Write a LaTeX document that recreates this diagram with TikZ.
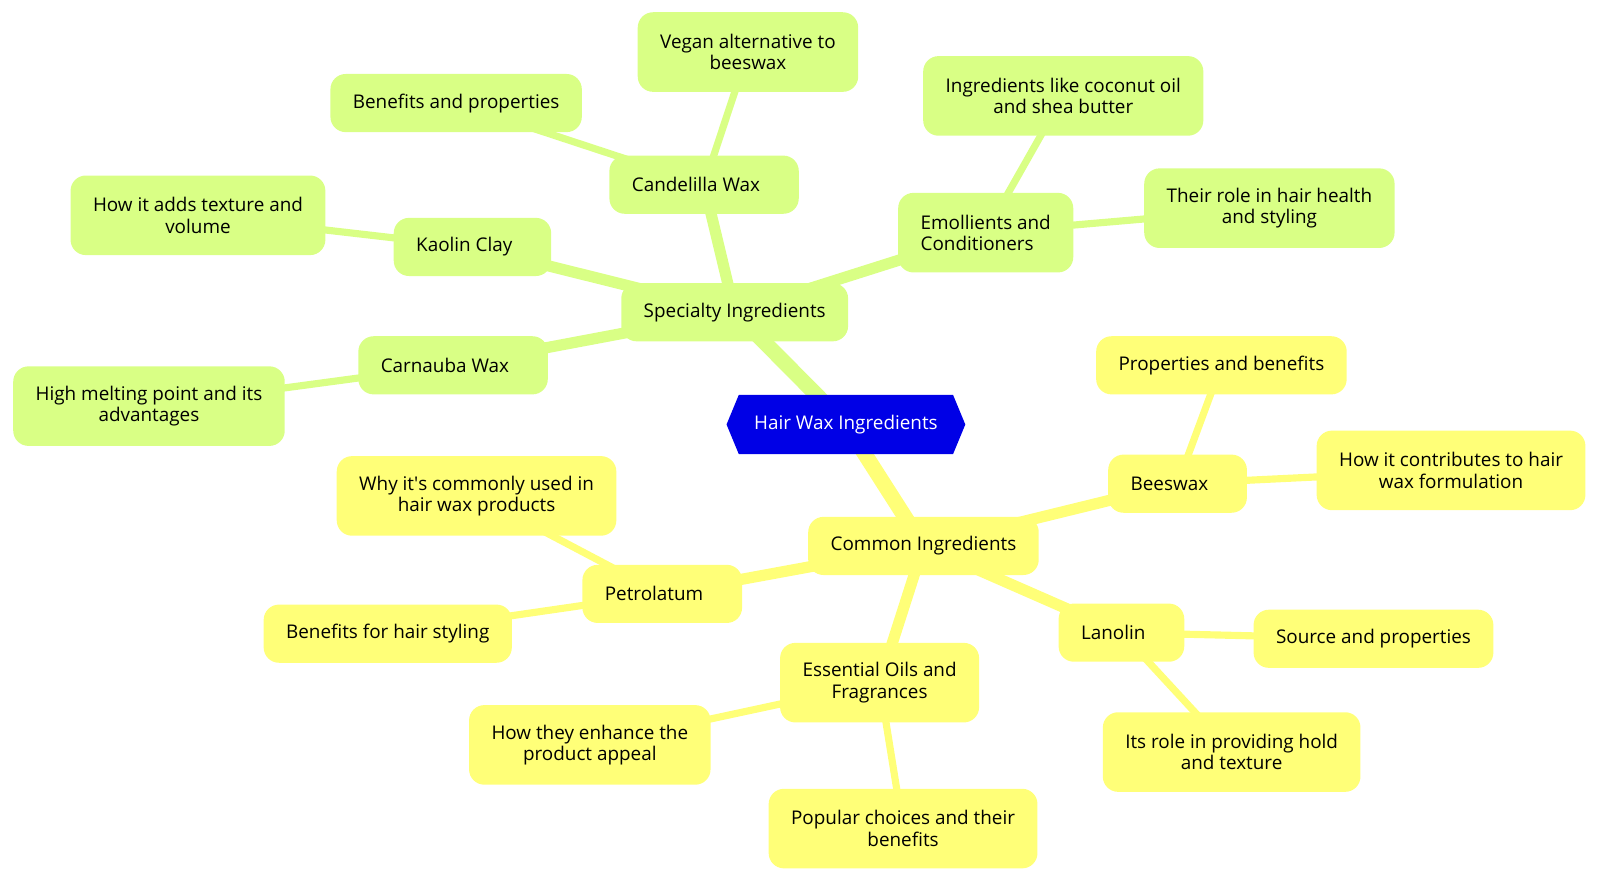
\documentclass[tikz,border=0pt]{standalone}
\usepackage{fontspec}
\setmainfont{Open Sans}
\usetikzlibrary{shapes.symbols, backgrounds}
\definecolor{specgreen}{RGB}{217,255,133}
\definecolor{commonyellow}{RGB}{255,255,120}
\definecolor{rootblue}{RGB}{0,0,230}
\newcommand{\tailgap}{\kern16pt}

\begin{document}
\begin{tikzpicture}[
    x=1pt, y=-1pt,
    every node/.style={font=\fontsize{18.5}{21}\selectfont, align=center},
    topic/.style={rounded corners=15pt, inner xsep=22pt, inner ysep=19pt, minimum height=57pt},
    twoline/.style={minimum height=78pt},
    specnode/.style={topic, fill=specgreen},
    commonnode/.style={topic, fill=commonyellow},
    rootnode/.style={signal, signal to=east and west, signal pointer angle=135,
        fill=rootblue, text=white, inner xsep=4pt, minimum width=234pt, minimum height=58pt},
    branch/.style={line width=15pt},
    twig/.style={line width=11pt},
    leafline/.style={line width=7pt},
]
\useasboundingbox (0,0) rectangle (1568,864);

% === Raiz ===
\node[rootnode] (root) at (829,416) {Hair Wax Ingredients};

% === Specialty Ingredients ===
\node[specnode] (spec) at (720,306) {Specialty Ingredients};
\node[specnode] (candelilla) at (690,181) {Candelilla Wax\tailgap};
\node[specnode, twoline] (vegan) at (733,51) {Vegan alternative to\\beeswax};
\node[specnode] (candben) at (447,101) {Benefits and properties};
\node[specnode, twoline, align=left] (emoll) at (966,228) {Emollients and\\Conditioners};
\node[specnode, twoline] (coconut) at (1042,94) {Ingredients like coconut oil\\and shea butter};
\node[specnode, twoline] (emollrole) at (1244,204) {Their role in hair health\\and styling};
\node[specnode] (kaolin) at (463,242) {Kaolin Clay\tailgap};
\node[specnode, twoline] (volume) at (194,211) {How it adds texture and\\volume};
\node[specnode] (carnauba) at (444,358) {Carnauba Wax\tailgap};
\node[specnode, twoline] (melting) at (146,398) {High melting point and its\\advantages};

% === Common Ingredients ===
\node[commonnode] (common) at (905,535) {Common Ingredients};
\node[commonnode] (beeswax) at (1154,474) {Beeswax\tailgap};
\node[commonnode] (beesprop) at (1197,358) {Properties and benefits};
\node[commonnode, twoline] (formul) at (1422,461) {How it contributes to hair\\wax formulation};
\node[commonnode] (petro) at (649,582) {Petrolatum\tailgap};
\node[commonnode, twoline] (why) at (467,486) {Why it\textquotesingle s commonly used in\\hair wax products};
\node[commonnode] (styling) at (380,621) {Benefits for hair styling};
\node[commonnode, twoline] (oils) at (862,669) {Essential Oils and\\Fragrances};
\node[commonnode, twoline] (appeal) at (578,730) {How they enhance the\\product appeal};
\node[commonnode, twoline] (popular) at (885,812) {Popular choices and their\\benefits};
\node[commonnode] (lanolin) at (1099,620) {Lanolin\tailgap};
\node[commonnode] (source) at (1346,626) {Source and properties};
\node[commonnode, twoline] (hold) at (1207,737) {Its role in providing hold\\and texture};

% === Conexiones ===
\begin{pgfonlayer}{background}
    \draw[branch, specgreen] (root.center) -- (spec.center);
    \draw[branch, commonyellow] (root.center) -- (common.center);

    \foreach \n in {candelilla, emoll, kaolin, carnauba}
        \draw[twig, specgreen] (spec.center) -- (\n.center);
    \foreach \a/\b in {candelilla/vegan, candelilla/candben, emoll/coconut, emoll/emollrole,
                       kaolin/volume, carnauba/melting}
        \draw[leafline, specgreen] (\a.center) -- (\b.center);

    \foreach \n in {beeswax, petro, oils, lanolin}
        \draw[twig, commonyellow] (common.center) -- (\n.center);
    \foreach \a/\b in {beeswax/beesprop, beeswax/formul, petro/why, petro/styling,
                       oils/appeal, oils/popular, lanolin/source, lanolin/hold}
        \draw[leafline, commonyellow] (\a.center) -- (\b.center);
\end{pgfonlayer}

\end{tikzpicture}
\end{document}
